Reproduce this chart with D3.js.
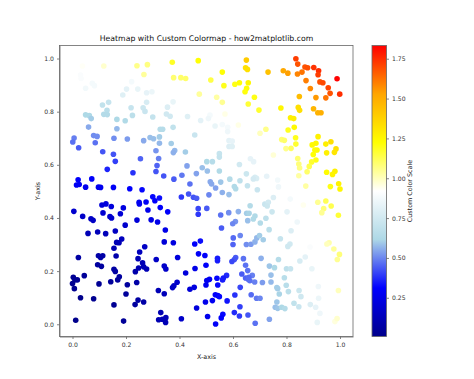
<!DOCTYPE html>
<html>
<head>
<meta charset="utf-8">
<script src="https://cdn.jsdelivr.net/npm/d3@7"></script>
<style>
  html, body { margin: 0; background: #fff; }
  svg { display: block; }
  text { font-family: "DejaVu Sans", sans-serif; fill: #222; }
  .axis text { font-size: 6.1px; fill: #333; }
  .axis path, .axis line { stroke: #666; stroke-width: 0.8; }
</style>
</head>
<body>
<svg id="chart"></svg>
<script>
// values, same order in all three arrays
const xValues = [
  .037,.117,.241,.280,.373,.470,.267,.378,.405,.423,
  .474,.030,.032,.049,.074,.082,.188,.202,.244,.277,
  .297,.221,.277,.376,.112,.135,.129,.117,.130,.219,
  .264,.271,.224,.355,.351,.365,.300,.430,.479,.049,
  .063,.070,.166,.197,.060,.166,.328,.337,.376,.457,
  .079,.092,.006,.001,.085,.155,.205,.266,.290,.303,
  .325,.325,.369,.023,.113,.153,.312,.382,.377,.422,
  .254,.322,.160,.316,.130,.226,.312,.428,.485,.341,
  .379,.409,.463,.439,.021,.015,.025,.072,.049,
  .097,.105,.153,.214,.260,.300,.308,.325,.407,.434,
  .452,.464,.470,.470,.110,.125,.145,.190,.249,
  .250,.275,.328,.282,.356,.005,.038,.069,.077,.114,
  .140,.146,.179,.241,.294,.318,.197,.347,.058,.094,
  .124,.160,.184,.165,.174,.343,.377,.457,.478,.155,
  .270,.251,.022,.097,.113,.105,.163,.245,.313,.393,
  .471,.094,.108,.262,.343,.349,.266,.277,.247,.235,
  .155,.160,.458,.423,.044,.003,.009,.018,0,.007,
  .099,.143,.169,.175,.205,.240,.391,.379,.374,.321,
  .343,.439,.455,.030,.079,.200,.245,.266,.234,.155,
  .464,.012,.191,.330,.322,.336,.349,.348,.407,.510,
  .560,.585,.664,.751,.719,.732,.728,
  .746,.802,.863,.814,.917,.947,.967,.939,.932,.994,
  .554,.584,.620,.651,.660,.682,.676,.655,.723,.702,
  .609,.599,.557,.502,.840,.735,.817,.627,.601,.600,
  .650,.667,.682,.689,.699,.713,.777,.813,.805,.888,
  .959,.951,.977,.998,.990,.870,.850,.495,.499,.542,
  .542,.610,.605,.596,.639,.705,.770,.647,.655,.736,
  .755,.800,.815,.895,.742,.792,.633,.672,.647,.657,
  .663,.659,.681,.710,.742,.576,.564,.540,.512,.502,
  .499,.543,.561,.627,.764,.799,.767,.773,.807,.847,
  .854,.919,.994,.920,.607,.534,.543,.549,.668,.688,
  .701,.497,.523,.578,.626,.764,.758,.767,.782,.794,
  .828,.846,.889,.909,.925,.505,.562,.556,.605,.624,
  .656,.736,.683,.535,.915,.981,.989,.650,.647,.654,
  .560,.517,.566,.607,.624,.657,.651,.645,.680,.539,
  .560,.657,.697,.514,.508,.570,.533,.560,.580,.580,
  .620,.585,.597,.585,.597,.701,.723,.502,.523,.549,
  .549,.504,.549,.624,.665,.677,.650,.588,.626,.682,
  .688,.676,.726,.767,.515,.520,.535,.554,.605,.610,
  .654,.691,.770,.751,.731,.788,.805,.835,.842,.841,
  .858,.869,.879,.902,.920,.918,.873,.889,.925,.936,
  .956,.963,.989,.999,.947,.910,.848,.779,.844,.849,
  .901,.917,.929,.815,.827,.806,.829,.782,.792,.834,
  .835,.798,.817,.918,.947,.966,.896,.910,.914,.900,
  .906,.950,.985,.979,.910,.842,.846,.894,.885,.849,
  .877,.846,.950,.981,.972,.995,.964,1.0,.872
];
const yValues = [
  .972,.972,.973,.977,.986,.992,.940,.928,.928,.925,
  .866,.938,.925,.888,.907,.898,.863,.885,.885,.871,
  .875,.913,.835,.837,.825,.835,.805,.790,.789,.815,
  .815,.801,.786,.817,.791,.783,.780,.782,.767,.788,
  .785,.774,.771,.766,.742,.736,.734,.734,.741,.712,
  .710,.707,.701,.686,.683,.700,.697,.691,.703,.698,
  .705,.681,.680,.664,.649,.640,.653,.654,.646,.648,
  .623,.624,.613,.597,.583,.570,.575,.596,.589,.558,
  .546,.561,.567,.528,.544,.524,.526,.547,.516,
  .516,.515,.515,.510,.506,.480,.465,.475,.479,.490,
  .478,.474,.435,.414,.449,.453,.443,.438,.459,
  .453,.460,.439,.430,.423,.425,.406,.397,.391,.419,
  .405,.400,.416,.392,.393,.385,.373,.355,.342,.347,
  .341,.351,.321,.308,.307,.310,.307,.302,.313,.286,
  .292,.272,.251,.258,.258,.251,.257,.247,.244,.251,
  .265,.224,.218,.231,.219,.208,.216,.208,.212,.198,
  .207,.199,.210,.193,.183,.177,.167,.167,.153,.134,
  .152,.160,.167,.179,.149,.157,.158,.145,.138,.127,
  .115,.132,.139,.100,.096,.114,.091,.084,.074,.073,
  .061,.015,.012,.044,.017,.019,.025,.007,.021,.487,
  .496,.488,.446,.477,.452,.459,.445,
  .423,.423,.449,.471,.459,.464,.445,.435,.420,.410,
  .411,.420,.424,.418,.418,.407,.396,.390,.399,.381,
  .387,.378,.362,.436,.385,.356,.352,.334,.325,.300,
  .300,.301,.310,.325,.334,.318,.322,.302,.293,.291,
  .307,.302,.283,.263,.244,.253,.238,.259,.222,.248,
  .239,.251,.244,.236,.247,.248,.244,.222,.202,.219,
  .213,.209,.209,.209,.185,.175,.189,.184,.174,.169,
  .164,.177,.159,.157,.159,.184,.174,.173,.169,.165,
  .148,.148,.167,.139,.138,.147,.134,.114,.123,.127,
  .104,.142,.127,.098,.110,.111,.108,.104,.111,.098,
  .098,.084,.089,.088,.066,.084,.064,.060,.064,.059,
  .079,.066,.074,.064,.041,.029,.038,.024,.044,.031,
  .035,.019,.004,.001,.007,.010,.022,.994,.965,.959,
  .949,.919,.898,.903,.909,.909,.888,.875,.854,.854,
  .835,.829,.806,.787,.774,.791,.746,.752,.741,.725,
  .750,.691,.689,.669,.669,.719,.734,.612,.612,.642,
  .629,.577,.577,.601,.623,.612,.566,.546,.540,.553,
  .549,.547,.557,.543,.536,.528,.513,.535,.518,.510,
  .521,.506,.517,.637,.949,.954,.945,.999,.979,.942,
  .949,.968,.965,.966,.954,.939,.917,.887,.912,.909,
  .890,.869,.924,.866,.852,.853,.857,.814,.816,.805,
  .811,.796,.796,.777,.774,.731,.741,.695,.692,.702,
  .678,.661,.662,.706,.678,.687,.675,.681,.656,.639,
  .656,.645,.660,.647,.618,.624,.603,.611,.594,.588,
  .574,.559,.572,.576,.564,.529,.518,.509,.520
];
const colorValues = [
  .93,.98,1.06,1.07,1.18,1.22,1.04,1.09,1.10,1.10,
  1.04,.90,.90,.87,.88,.88,.80,.82,.84,.83,
  .85,.88,.77,.84,.69,.71,.66,.64,.64,.71,
  .73,.72,.67,.79,.75,.75,.70,.80,.82,.62,
  .62,.60,.62,.63,.55,.57,.65,.65,.69,.72,
  .51,.51,.49,.47,.47,.51,.53,.55,.58,.58,
  .60,.57,.60,.44,.43,.43,.52,.57,.56,.60,
  .45,.49,.40,.45,.36,.38,.43,.54,.58,.43,
  .44,.48,.54,.47,.30,.28,.28,.30,.27,
  .27,.27,.29,.31,.32,.32,.31,.33,.39,.43,
  .43,.44,.41,.39,.21,.22,.22,.23,.27,
  .27,.29,.30,.26,.30,.18,.17,.16,.16,.19,
  .18,.18,.20,.21,.24,.25,.18,.25,.12,.13,
  .13,.15,.14,.12,.12,.21,.23,.30,.33,.11,
  .16,.14,.07,.08,.08,.08,.09,.12,.16,.22,
  .29,.06,.06,.12,.17,.17,.12,.12,.11,.09,
  .07,.07,.25,.22,.04,.03,.03,.03,.02,.02,
  .03,.05,.06,.06,.06,.08,.18,.16,.16,.12,
  .13,.21,.23,.01,.02,.05,.07,.08,.06,.03,
  .22,.01,.04,.11,.11,.12,.12,.12,.17,.50,
  .56,.58,.64,.79,.72,.75,.73,
  .73,.82,.94,.88,1.05,1.12,1.13,1.08,1.05,1.16,
  .47,.51,.56,.60,.61,.63,.63,.58,.68,.64,
  .52,.50,.44,.44,.86,.67,.79,.50,.46,.45,
  .51,.53,.56,.57,.60,.60,.71,.75,.74,.90,
  1.02,1.00,1.04,1.08,1.05,.82,.77,.30,.30,.35,
  .35,.44,.43,.41,.47,.56,.65,.47,.47,.59,
  .62,.68,.71,.84,.58,.66,.44,.49,.45,.46,
  .47,.46,.49,.53,.57,.37,.35,.32,.28,.27,
  .27,.32,.35,.41,.60,.66,.60,.61,.67,.73,
  .74,.86,1.00,.85,.38,.30,.31,.32,.46,.48,
  .50,.26,.28,.34,.40,.59,.58,.59,.62,.64,
  .69,.72,.79,.83,.86,.26,.32,.31,.37,.39,
  .43,.54,.47,.29,.84,.96,.98,1.40,1.33,1.33,
  1.22,1.14,1.19,1.20,1.22,1.25,1.22,1.21,1.20,1.03,
  1.05,1.16,1.17,.88,.86,.95,.84,.88,.88,.86,
  .95,.82,.83,.79,.80,1.00,1.06,.62,.65,.71,
  .70,.58,.63,.75,.83,.83,.73,.64,.68,.77,
  .78,.76,.83,.87,.55,.55,.54,.59,.63,.63,
  .70,.72,.86,.97,1.43,1.52,1.54,1.72,1.68,1.59,
  1.62,1.68,1.69,1.74,1.75,1.72,1.60,1.58,1.68,1.70,
  1.71,1.68,1.83,1.75,1.62,1.55,1.45,1.25,1.33,1.33,
  1.47,1.48,1.49,1.27,1.28,1.19,1.24,1.09,1.10,1.19,
  1.17,1.06,1.11,1.27,1.28,1.33,1.24,1.25,1.24,1.22,
  1.23,1.27,1.33,1.31,1.20,1.09,1.08,1.17,1.13,1.07,
  1.10,1.03,1.23,1.27,1.26,1.26,1.20,1.25,1.03
];
const xTicks = [0, 0.2, 0.4, 0.6, 0.8, 1.0];
const yTicks = [0, 0.2, 0.4, 0.6, 0.8, 1.0];
const colorTicks = [0.25, 0.5, 0.75, 1.0, 1.25, 1.5, 1.75];
const colorStops = ["darkblue", "blue", "lightblue", "white", "yellow", "orange", "red"];
const colorRange = [0.007, 1.833];

const width = 474, height = 379;
const plot = {left: 59.5, right: 353, top: 45.5, bottom: 336.5};
const bar = {left: 372, right: 386.5, top: 45.5, bottom: 336.5};

const svg = d3.select("#chart").attr("width", width).attr("height", height);

const xScale = d3.scaleLinear().domain([-0.0486, 1.0486]).range([plot.left, plot.right]);
const yScale = d3.scaleLinear().domain([-0.046, 1.049]).range([plot.bottom, plot.top]);

// evenly spaced stops across the color range
const stopDomain = colorStops.map((d, i) => colorRange[0] + (colorRange[1] - colorRange[0]) * i / (colorStops.length - 1));
const colorScale = d3.scaleLinear().domain(stopDomain).range(colorStops).clamp(true);
const barScale = d3.scaleLinear().domain(colorRange).range([bar.bottom, bar.top]);

// Points
svg.append("g").selectAll("circle")
    .data(xValues.map((x, i) => ({x, y: yValues[i], c: colorValues[i]})))
  .join("circle")
    .attr("cx", d => xScale(d.x))
    .attr("cy", d => yScale(d.y))
    .attr("r", 2.8)
    .attr("fill", d => colorScale(d.c));

// Axes
svg.append("g")
    .attr("class", "axis")
    .attr("transform", `translate(0,${plot.bottom})`)
    .call(d3.axisBottom(xScale).tickValues(xTicks).tickFormat(d3.format(".1f")).tickSize(2.5).tickPadding(3.5).tickSizeOuter(0));
svg.append("g")
    .attr("class", "axis")
    .attr("transform", `translate(${plot.left},0)`)
    .call(d3.axisLeft(yScale).tickValues(yTicks).tickFormat(d3.format(".1f")).tickSize(2.5).tickPadding(3).tickSizeOuter(0));
svg.append("rect")
    .attr("x", plot.left).attr("y", plot.top)
    .attr("width", plot.right - plot.left).attr("height", plot.bottom - plot.top)
    .attr("fill", "none").attr("stroke", "#666").attr("stroke-width", 0.8);

// Colorbar
const gradient = svg.append("defs").append("linearGradient")
    .attr("id", "colorbar").attr("x1", 0).attr("x2", 0).attr("y1", 1).attr("y2", 0);
gradient.selectAll("stop")
    .data(colorStops)
  .join("stop")
    .attr("offset", (d, i) => i / (colorStops.length - 1))
    .attr("stop-color", d => d);
svg.append("rect")
    .attr("x", bar.left).attr("y", bar.top)
    .attr("width", bar.right - bar.left).attr("height", bar.bottom - bar.top)
    .attr("fill", "url(#colorbar)").attr("stroke", "#666").attr("stroke-width", 0.8);
svg.append("g")
    .attr("class", "axis")
    .attr("transform", `translate(${bar.right},0)`)
    .call(d3.axisRight(barScale).tickValues(colorTicks).tickFormat(d3.format(".2f")).tickSize(2.5).tickPadding(3).tickSizeOuter(0))
    .select(".domain").remove();

// Titles
svg.append("text").attr("x", 206.5).attr("y", 41)
    .attr("text-anchor", "middle").style("font-size", "7.75px").style("fill", "#111")
    .text("Heatmap with Custom Colormap - how2matplotlib.com");
svg.append("text").attr("x", 206.5).attr("y", 358.5)
    .attr("text-anchor", "middle").style("font-size", "6.4px").text("X-axis");
svg.append("text").attr("transform", "translate(39.5,191) rotate(-90)")
    .attr("text-anchor", "middle").style("font-size", "6.4px").text("Y-axis");
svg.append("text").attr("transform", "translate(412,191) rotate(-90)")
    .attr("text-anchor", "middle").style("font-size", "6.4px").text("Custom Color Scale");
</script>
</body>
</html>
